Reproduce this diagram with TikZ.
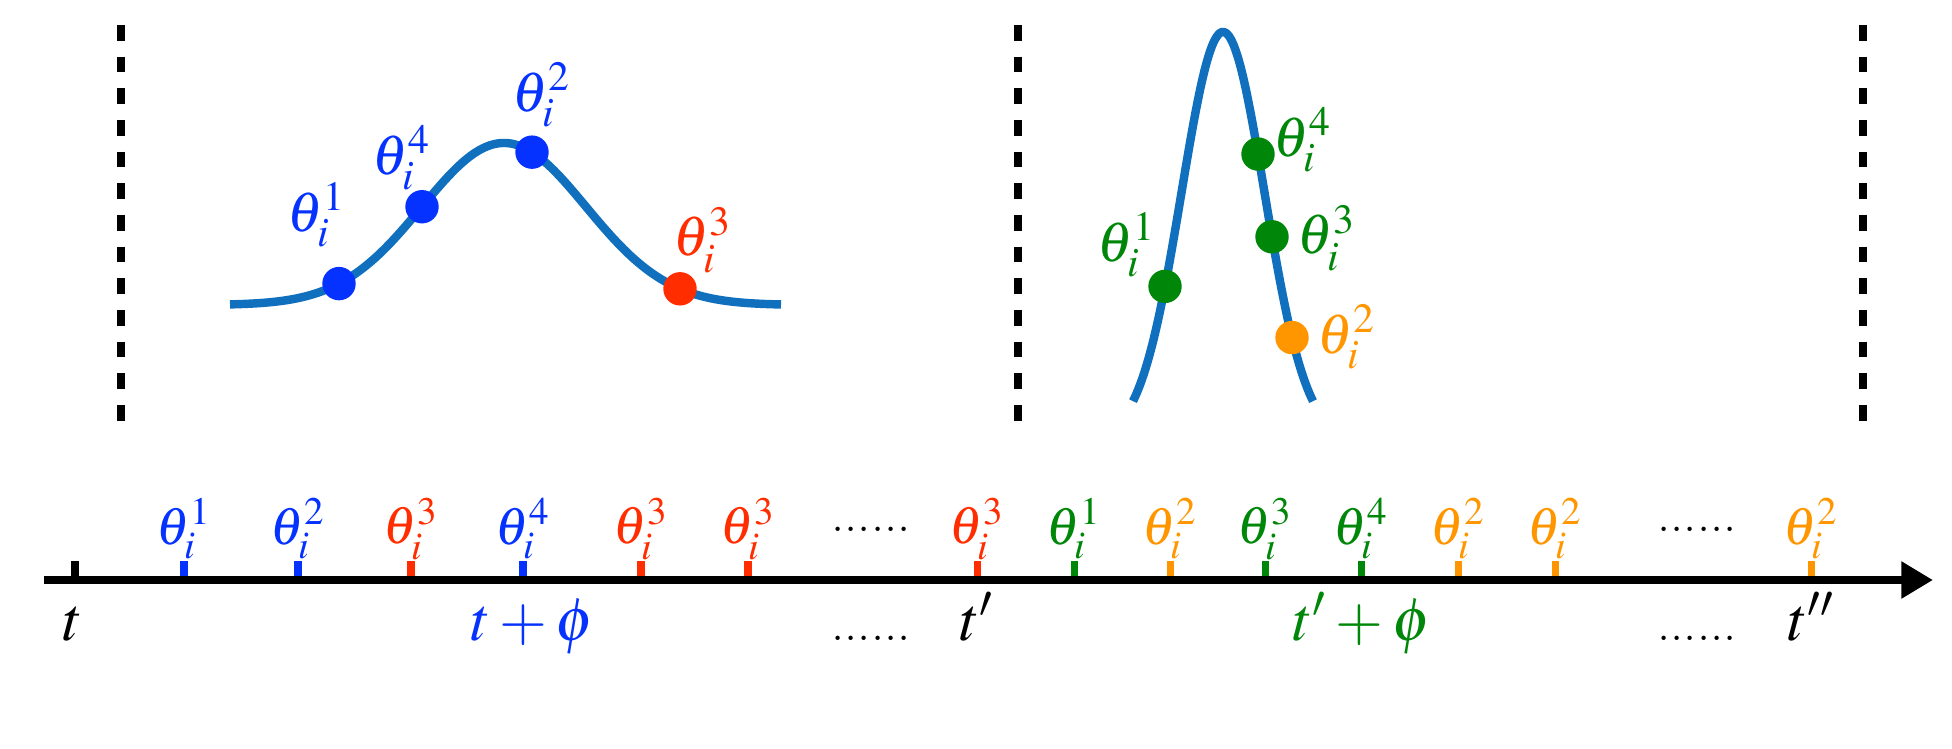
\documentclass[tikz,border=0pt]{standalone}
\usepackage{mathptmx}
\usepackage{tikz}
\usetikzlibrary{arrows.meta}

\definecolor{bellcol}{RGB}{16,112,190}
\definecolor{tblue}{RGB}{5,50,255}
\definecolor{tred}{RGB}{255,45,0}
\definecolor{tgreen}{RGB}{0,135,10}
\definecolor{torange}{RGB}{255,150,0}

\tikzset{
  declare function={bellL(\t)=305-162*exp(-0.5*((\t-504)/82)^2);
                    bellR(\t)=440-408*exp(-0.5*((\t-1223)/41.5)^2);},
  sep/.style={line width=2.3pt, dash pattern=on 4.5pt off 4.5pt},
  bell/.style={bellcol, line width=2.4pt},
  dot/.style={circle, inner sep=0pt, minimum size=9.5pt},
  tick/.style={line width=2pt},
  toplab/.style={font=\fontsize{15}{18}\selectfont},
  botlab/.style={font=\fontsize{17.5}{21}\selectfont, anchor=base},
  curvelab/.style={font=\fontsize{16}{19}\selectfont},
}

\begin{document}
\begin{tikzpicture}[x=0.01cm,y=-0.01cm]
\useasboundingbox (0,0) rectangle (1952,748);

% separators
\draw[sep] (121,25) -- (121,430);
\draw[sep] (1018,25) -- (1018,430);
\draw[sep] (1863,25) -- (1863,430);

% wide bell
\draw[bell] plot[domain=230:781, samples=120, smooth] (\x,{bellL(\x)});
\node[dot, fill=tblue] (a1) at (339,{bellL(339)}) {};
\node[dot, fill=tblue] (a4) at (422,{bellL(422)}) {};
\node[dot, fill=tblue] (a2) at (532,{bellL(532)}) {};
\node[dot, fill=tred]  (a3) at (680,{bellL(680)}) {};
\node[curvelab, tblue] (la1) at (317,215) {$\theta_i^1$};
\node[curvelab, tblue] (la4) at (402,158) {$\theta_i^4$};
\node[curvelab, tblue] (la2) at (542,95) {$\theta_i^2$};
\node[curvelab, tred]  (la3) at (703,240) {$\theta_i^3$};

% narrow bell
\draw[bell] plot[domain=1133:1313, samples=100, smooth] (\x,{bellR(\x)});
\node[dot, fill=tgreen]  (b4) at (1258,{bellR(1258)}) {};
\node[dot, fill=tgreen]  (b3) at (1272,{bellR(1272)}) {};
\node[dot, fill=tgreen]  (b1) at (1165,{bellR(1165)}) {};
\node[dot, fill=torange] (b2) at (1292,{bellR(1292)}) {};
\node[curvelab, tgreen]  (lb4) at (1303,140) {$\theta_i^4$};
\node[curvelab, tgreen]  (lb3) at (1327,238) {$\theta_i^3$};
\node[curvelab, tgreen]  (lb1) at (1127,245) {$\theta_i^1$};
\node[curvelab, torange] (lb2) at (1347,337) {$\theta_i^2$};

% time axis
\coordinate (t0) at (75,580);
\draw[tick] (t0) -- ++(0,-19);
\foreach \x/\c/\s [count=\i] in {184/tblue/1, 298/tblue/2, 411/tred/3, 523/tblue/4,
    641/tred/3, 748/tred/3, 977/tred/3, 1074/tgreen/1, 1170/torange/2,
    1265/tgreen/3, 1361/tgreen/4, 1458/torange/2, 1555/torange/2, 1811/torange/2}{
  \coordinate (k\i) at (\x,580);
  \draw[tick, \c] (k\i) -- ++(0,-19);
  \node[toplab, \c] (l\i) at (\x,529) {$\theta_i^{\s}$};
}
\coordinate (start) at (44,580);
\coordinate (end) at (1933,580);
\draw[line width=2.3pt, -{Triangle[length=9pt, width=10pt]}] (start) -- (end);

\node[toplab] (d1) at (871,529) {......};
\node[toplab] (d2) at (1697,529) {......};

\node[botlab] (lt) at (73,640) {$t$};
\node[botlab, tblue] (ltp) at (533,640) {$t+\phi$};
\node[botlab] (d3) at (871,640) {\fontsize{15}{18}\selectfont ......};
\node[botlab] (ltq) at (977,640) {$t'$};
\node[botlab, tgreen] (ltqp) at (1362,640) {$t'+\phi$};
\node[botlab] (d4) at (1697,640) {\fontsize{15}{18}\selectfont ......};
\node[botlab] (ltr) at (1811,640) {$t''$};
\end{tikzpicture}
\end{document}
